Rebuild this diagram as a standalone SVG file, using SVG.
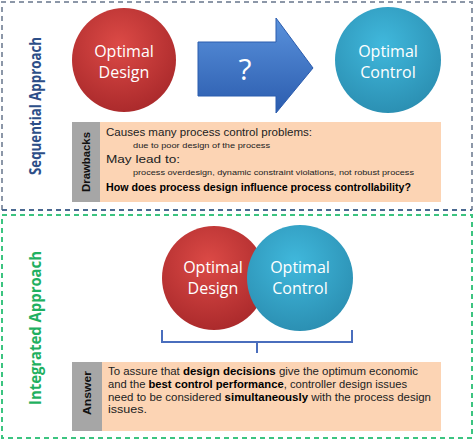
<svg xmlns="http://www.w3.org/2000/svg" width="474" height="441" viewBox="0 0 474 441">
<defs>
<radialGradient id="gRed" cx="0.45" cy="0.35" r="0.7">
<stop offset="0" stop-color="#dc4a46"/>
<stop offset="1" stop-color="#a8282a"/>
</radialGradient>
<radialGradient id="gBlue" cx="0.45" cy="0.35" r="0.7">
<stop offset="0" stop-color="#40b8dc"/>
<stop offset="1" stop-color="#2a8db0"/>
</radialGradient>
<linearGradient id="gArrow" x1="0" y1="0" x2="0" y2="1">
<stop offset="0" stop-color="#5a92dc"/>
<stop offset="1" stop-color="#2b5cae"/>
</linearGradient>
<style>
.frame{fill:none;stroke-width:2;stroke-dasharray:5,4}
.side{font-family:"Open Sans","Liberation Sans",sans-serif;font-weight:bold;font-size:16px;text-anchor:middle}
.ct{font-family:"Open Sans","Liberation Sans",sans-serif;font-size:16px;fill:#ffffff;text-anchor:middle}
.peach{fill:#fcd4b4}
.gray{fill:#a6a6a6}
.lab{font-family:"Liberation Sans",sans-serif;font-weight:bold;font-size:11px;fill:#111;text-anchor:middle}
.t{font-family:"Liberation Sans",sans-serif;fill:#222}
.b{font-weight:bold;fill:#000}
</style>
</defs>
<g id="sequential-frame">
<path class="frame" d="M2,210 V2 H472 V210" stroke="#8c97a8"/>
<path class="frame" d="M2,210 H472" stroke="#4a6890"/>
<text class="side" fill="#2c4e88" transform="translate(41,106) rotate(-90)" textLength="138" lengthAdjust="spacingAndGlyphs">Sequential Approach</text>
</g>
<g id="integrated-frame">
<rect class="frame" x="2" y="215" width="470" height="223" stroke="#3cc480"/>
<text class="side" fill="#1fb060" transform="translate(41,328) rotate(-90)" textLength="154" lengthAdjust="spacingAndGlyphs">Integrated Approach</text>
</g>
<g id="seq-design">
<circle cx="124" cy="60" r="52" fill="url(#gRed)"/>
<text class="ct" x="124" y="57">Optimal</text>
<text class="ct" x="124" y="78">Design</text>
</g>
<g id="connectors">
<path d="M198,42 H276 V18 L313,68 L276,113 V96 H198 Z" fill="url(#gArrow)" stroke="#2b5cae" stroke-width="1"/>
<text x="245" y="80" font-family="Open Sans,Liberation Sans,sans-serif" font-size="30" fill="#ffffff" text-anchor="middle">?</text>
<path d="M162,330 V342 H352 V330 M257,342 V353" fill="none" stroke="#4a6ebd" stroke-width="2"/>
</g>
<g id="seq-control">
<circle cx="388" cy="60" r="53" fill="url(#gBlue)"/>
<text class="ct" x="388" y="57">Optimal</text>
<text class="ct" x="388" y="78">Control</text>
</g>
<g id="drawbacks">
<rect class="peach" x="72" y="122" width="369" height="80"/>
<rect class="gray" x="72" y="122" width="28" height="80"/>
<text class="lab" transform="translate(90,162) rotate(-90)" textLength="60" lengthAdjust="spacingAndGlyphs">Drawbacks</text>
<text class="t" x="106" y="136" font-size="11" textLength="206" lengthAdjust="spacingAndGlyphs">Causes many process control problems:</text>
<text class="t" x="133" y="148" font-size="8" textLength="137" lengthAdjust="spacingAndGlyphs">due to poor design of the process</text>
<text class="t" x="106" y="163" font-size="11" textLength="74" lengthAdjust="spacingAndGlyphs">May lead to:</text>
<text class="t" x="133" y="175" font-size="8" textLength="281" lengthAdjust="spacingAndGlyphs">process overdesign, dynamic constraint violations, not robust process</text>
<text class="t b" x="106" y="191" font-size="11" textLength="305" lengthAdjust="spacingAndGlyphs">How does process design influence process controllability?</text>
</g>
<g id="int-design">
<circle cx="214" cy="278" r="52" fill="url(#gRed)"/>
<text class="ct" x="213" y="273">Optimal</text>
<text class="ct" x="213" y="294">Design</text>
</g>
<g id="int-control">
<circle cx="300" cy="278" r="53" fill="url(#gBlue)"/>
<text class="ct" x="300" y="273">Optimal</text>
<text class="ct" x="300" y="294">Control</text>
</g>
<g id="answer">
<rect class="peach" x="72" y="362" width="369" height="69"/>
<rect class="gray" x="72" y="362" width="30" height="69"/>
<text class="lab" transform="translate(91,393) rotate(-90)" textLength="44" lengthAdjust="spacingAndGlyphs">Answer</text>
<text class="t" x="108" y="375" font-size="10.5" textLength="310" lengthAdjust="spacingAndGlyphs">To assure that <tspan class="b">design decisions</tspan> give the optimum economic</text>
<text class="t" x="108" y="388" font-size="10.5" textLength="299" lengthAdjust="spacingAndGlyphs">and the <tspan class="b">best control performance</tspan>, controller design issues</text>
<text class="t" x="108" y="401" font-size="10.5" textLength="323" lengthAdjust="spacingAndGlyphs">need to be considered <tspan class="b">simultaneously</tspan> with the process design</text>
<text class="t" x="108" y="413" font-size="10.5" textLength="39" lengthAdjust="spacingAndGlyphs">issues.</text>
</g>
</svg>
